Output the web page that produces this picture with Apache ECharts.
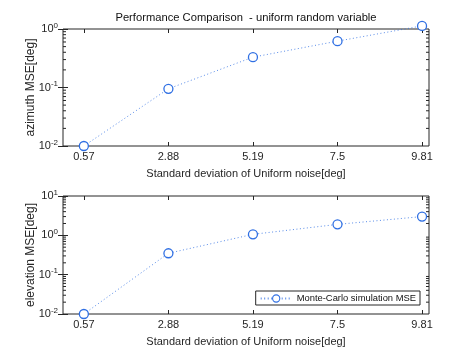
<!DOCTYPE html>
<html><head><meta charset="utf-8">
<script src="https://cdn.jsdelivr.net/npm/echarts@6/dist/echarts.min.js"></script>
<style>html,body{margin:0;padding:0;background:#fff}#c{width:474px;height:355px}</style>
</head><body><div id="c"></div>
<script>
const xValues = [0.57, 2.88, 5.19, 7.5, 9.81];
const azimuthMSE = [0.01, 0.095, 0.33, 0.62, 1.13];
const elevationMSE = [0.01, 0.35, 1.06, 1.9, 3.0];
const titleText = 'Performance Comparison  - uniform random variable';
const xName = 'Standard deviation of Uniform noise[deg]';
const yNames = ['azimuth MSE[deg]', 'elevation MSE[deg]'];
const legendName = 'Monte-Carlo simulation MSE';
const yRanges = [[0.01, 1], [0.01, 10]];

const AX = '#262626';
const BLUE = '#2f6fe3';
const FONT = 'Liberation Sans, Arial, sans-serif';

function minorVals(lo, hi) {
  const out = [];
  for (let d = lo; d < hi - 1e-12; d *= 10) for (let k = 2; k <= 9; k++) out.push(+(d * k).toPrecision(6));
  return out;
}
function supFmt(v) { return '10{s|' + Math.round(Math.log10(v)) + '}'; }

const grids = [
  {left: 63, right: 45, top: 29, height: 117, show: true, borderColor: AX, borderWidth: 1},
  {left: 63, right: 45, top: 196, height: 118, show: true, borderColor: AX, borderWidth: 1}
];
const xAxes = [], yAxes = [], series = [];
[0, 1].forEach(g => {
  xAxes.push({gridIndex: g, type: 'value', min: 0, max: 10, position: 'bottom',
    name: xName, nameLocation: 'middle', nameGap: 22, nameMoveOverlap: false,
    nameTextStyle: {color: AX, fontSize: 11, fontFamily: FONT},
    axisLine: {show: false}, splitLine: {show: false},
    axisTick: {show: true, inside: true, length: 4, lineStyle: {color: AX}, customValues: xValues},
    axisLabel: {color: AX, fontSize: 11, fontFamily: FONT, margin: 5, customValues: xValues,
      formatter: v => String(v)}});
  xAxes.push({gridIndex: g, type: 'value', min: 0, max: 10, position: 'top',
    axisLine: {show: false}, splitLine: {show: false}, axisLabel: {show: false},
    axisTick: {show: true, inside: true, length: 4, lineStyle: {color: AX}, customValues: xValues}});
  yAxes.push({gridIndex: g, type: 'log', logBase: 10, min: yRanges[g][0], max: yRanges[g][1], position: 'left',
    name: yNames[g], nameLocation: 'middle', nameGap: 26, nameMoveOverlap: false,
    nameTextStyle: {color: AX, fontSize: 12, fontFamily: FONT},
    axisLine: {show: false}, splitLine: {show: false},
    axisTick: {show: true, inside: true, length: 5, lineStyle: {color: AX}},
    axisLabel: {color: AX, fontSize: 11, fontFamily: FONT, margin: 5, formatter: supFmt,
      rich: {s: {fontSize: 8, fontFamily: FONT, color: AX, padding: [0, 0, 7, 0]}}}});
  yAxes.push({gridIndex: g, type: 'log', logBase: 10, min: yRanges[g][0], max: yRanges[g][1], position: 'right',
    axisLine: {show: false}, splitLine: {show: false}, axisLabel: {show: false},
    axisTick: {show: true, inside: true, length: 5, lineStyle: {color: AX}}});
});

const dataSets = [azimuthMSE, elevationMSE];
[0, 1].forEach(g => {
  series.push({
    name: g === 1 ? legendName : 'azimuth',
    type: 'line', xAxisIndex: g * 2, yAxisIndex: g * 2, clip: false,
    data: xValues.map((x, i) => [x, dataSets[g][i]]),
    symbol: 'circle', symbolSize: 9,
    itemStyle: {color: '#fff', borderColor: BLUE, borderWidth: 1.3},
    lineStyle: {color: BLUE, width: 1, type: [1, 2.5], opacity: 0.8},
    emphasis: {disabled: true}, animation: false, z: 5
  });
  series.push({
    type: 'custom', xAxisIndex: g * 2, yAxisIndex: g * 2, silent: true, animation: false,
    data: minorVals(yRanges[g][0], yRanges[g][1]).map(v => [0, v]),
    renderItem: (params, api) => {
      const v = api.value(1);
      const l = api.coord([0, v]);
      const r = api.coord([10, v]);
      return {type: 'group', children: [
        {type: 'line', shape: {x1: l[0], y1: l[1], x2: l[0] + 3, y2: l[1]}, style: {stroke: AX, lineWidth: 1}},
        {type: 'line', shape: {x1: r[0], y1: r[1], x2: r[0] - 3, y2: r[1]}, style: {stroke: AX, lineWidth: 1}}
      ]};
    }
  });
});

const chart = echarts.init(document.getElementById('c'), null, {renderer: 'canvas'});
chart.setOption({
  animation: false,
  backgroundColor: '#fff',
  title: {text: titleText, left: 246, textAlign: 'center', top: 12, padding: 0,
    textStyle: {color: '#111', fontSize: 11.2, fontWeight: 'normal', fontFamily: FONT}},
  legend: {data: [legendName], right: 54, top: 291, padding: [3, 4, 2, 4], itemGap: 0,
    borderColor: AX, borderWidth: 1, backgroundColor: '#fff', itemWidth: 31, itemHeight: 9,
    textStyle: {color: '#111', fontSize: 9.4, fontFamily: FONT},
    itemStyle: {borderWidth: 1.1}},
  grid: grids, xAxis: xAxes, yAxis: yAxes, series: series
});
</script></body></html>
